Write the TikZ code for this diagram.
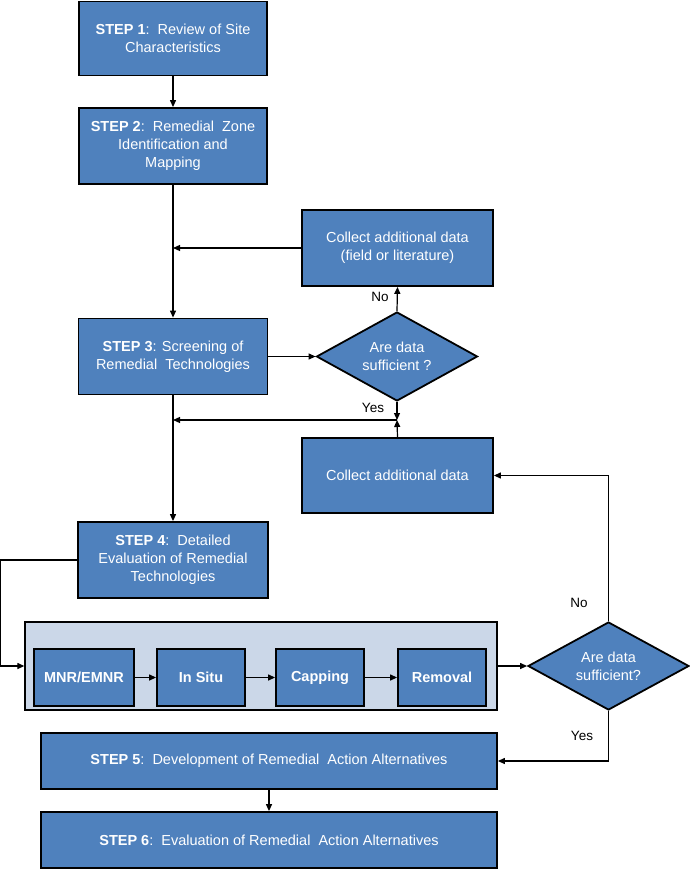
\documentclass[tikz,border=0pt]{standalone}
\usepackage{fontspec}
\setmainfont{Liberation Sans}
\usetikzlibrary{shapes.geometric,arrows.meta}
\definecolor{boxblue}{HTML}{4F81BD}
\definecolor{panelbg}{HTML}{CBD7E8}
\tikzset{
  stepbox/.style={draw=black, line width=1.8pt, fill=boxblue, text=white, align=center, inner sep=2pt, font=\fontsize{14.5}{18}\selectfont},
  techbox/.style={stepbox, minimum width=88pt, minimum height=57pt, font=\fontsize{14.5}{18}\selectfont\bfseries},
  decide/.style={diamond, draw=black, line width=1.8pt, fill=boxblue, text=white, align=center, inner sep=0pt, shape aspect=1.8, minimum width=161pt, minimum height=88pt, font=\fontsize{14.5}{18}\selectfont},
  conn/.style={line width=1.2pt, -{Triangle[length=7pt,width=6pt]}},
  lbl/.style={font=\fontsize{13.5}{16}\selectfont, text=black, inner sep=0pt}
}
\begin{document}
\begin{tikzpicture}[x=1pt,y=-1pt]
\useasboundingbox (0,0) rectangle (690,870);

% main steps
\node[stepbox, minimum width=188pt, minimum height=74pt] (s1) at (173,38.5) {\textbf{STEP 1}:\ \ Review of Site\\Characteristics};
\node[stepbox, minimum width=188pt, minimum height=76pt] (s2) at (173,146) {\textbf{STEP 2}:\ \ Remedial\ \ Zone\\Identification and\\Mapping};
\node[stepbox, minimum width=191pt, minimum height=76pt] (c1) at (397.5,248) {Collect additional data\\(field or literature)};
\node[stepbox, minimum width=189pt, minimum height=76pt] (s3) at (173,356.5) {\textbf{STEP 3}: Screening of\\Remedial\ \ Technologies};
\node[decide, minimum height=89pt] (d1) at (397,356.5) {Are data\\sufficient ?};
\node[stepbox, minimum width=191pt, minimum height=75pt] (c2) at (397.5,475.5) {Collect additional data};
\node[stepbox, minimum width=190pt, minimum height=76pt] (s4) at (173,560) {\textbf{STEP 4}:\ \ Detailed\\Evaluation of Remedial\\Technologies};

% technology panel
\node[draw=black, line width=1.3pt, fill=panelbg, minimum width=472pt, minimum height=88pt, inner sep=0pt] (panel) at (261,666) {};
\node[techbox, minimum width=100pt] (t1) at (84,677.5) {MNR/EMNR};
\node[techbox] (t2) at (201,677.5) {In Situ};
\node[techbox] (t3) at (320,677.5) {Capping};
\node[techbox] (t4) at (442,677.5) {Removal};

\node[decide] (d2) at (608.5,666) {Are data\\sufficient?};

\node[stepbox, minimum width=456pt, minimum height=56pt] (s5) at (269,761) {\textbf{STEP 5}:\ \ Development of Remedial\ \ Action Alternatives};
\node[stepbox, minimum width=456pt, minimum height=56pt] (s6) at (269,840) {\textbf{STEP 6}:\ \ Evaluation of Remedial\ \ Action Alternatives};

% labels
\node[lbl] (no1) at (380,297) {No};
\node[lbl] (yes1) at (373,408) {Yes};
\node[lbl] (no2) at (579,603) {No};
\node[lbl] (yes2) at (582,736) {Yes};

\coordinate (j1) at (397,420);

% connectors
\draw[conn] (s1.south) -- (s2.north);
\draw[conn] (s2.south) -- (s3.north);
\draw[conn] (c1.west) -- (s2.south |- c1.west);
\draw[conn] (s3.east) -- (d1.west);
\draw[conn] (d1.north) -- (c1.south);
\draw[conn] (d1.south) -- (j1);
\draw[conn] (c2.north) -- (j1);
\draw[conn] (j1) -- (s3.south |- j1);
\draw[conn] (s3.south) -- (s4.north);
\draw[conn] (s4.west) -- ++(-77,0) |- (panel.west);
\draw[conn] (t1) -- (t2);
\draw[conn] (t2) -- (t3);
\draw[conn] (t3) -- (t4);
\draw[conn] (panel.east) -- (d2.west);
\draw[conn] (d2.north) |- (c2.east);
\draw[conn] (d2.south) |- (s5.east);
\draw[conn] (s5.south) -- (s6.north);
\end{tikzpicture}
\end{document}
